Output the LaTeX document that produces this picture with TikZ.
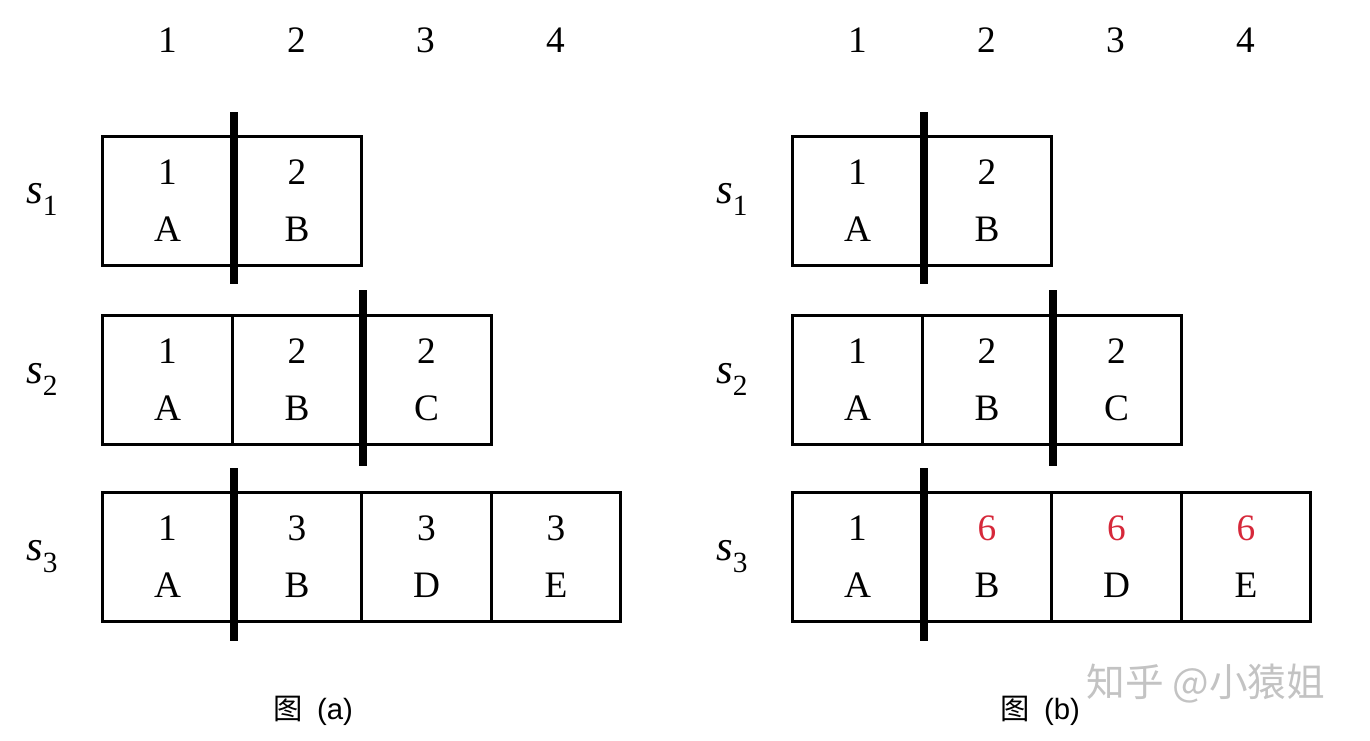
\documentclass[tikz,border=0pt]{standalone}
\usepackage{fontspec}
\setmainfont{Liberation Serif}
\newfontfamily\cjk{Noto Sans CJK SC}
\newfontfamily\capsans{Liberation Sans}
\definecolor{hl}{RGB}{214,40,58}
\definecolor{wm}{RGB}{195,195,195}
\newcommand{\rowname}[1]{\textit{s}\raisebox{-0.28em}{\fontsize{22}{22}\selectfont #1}}
\begin{document}
\begin{tikzpicture}[x=0.75pt,y=-0.75pt,
  cell/.style={draw,line width=2.2pt,minimum width=129.5*0.75pt,minimum height=129*0.75pt,inner sep=0pt,align=center,font=\fontsize{28}{42.75}\selectfont},
  hdr/.style={font=\fontsize{28}{30}\selectfont},
  rowlab/.style={font=\fontsize{32}{34}\selectfont},
  bar/.style={line width=6pt},
  captext/.style={font=\fontsize{22}{26}\selectfont},
  water/.style={font=\cjk\fontsize{29}{34}\selectfont,text=wm}]
\useasboundingbox (0,0) rectangle (1370,740);
% ---------- panel (a)
\foreach \i/\x in {1/167.5,2/296.5,3/425.5,4/555.5}{\node[hdr] (ah\i) at (\x,40) {\i};}
\node[rowlab] (al1) at (42,199) {\rowname{1}};
\node[rowlab] (al2) at (42,379) {\rowname{2}};
\node[rowlab] (al3) at (42,557) {\rowname{3}};
\node[cell] (a11) at (167.5,201) {1\\A};
\node[cell] (a12) at (297,201) {2\\B};
\node[cell] (a21) at (167.5,380) {1\\A};
\node[cell] (a22) at (297,380) {2\\B};
\node[cell] (a23) at (426.5,380) {2\\C};
\node[cell] (a31) at (167.5,557) {1\\A};
\node[cell] (a32) at (297,557) {3\\B};
\node[cell] (a33) at (426.5,557) {3\\D};
\node[cell] (a34) at (556,557) {3\\E};
\draw[bar] ([yshift=23*0.75pt]a11.north east) -- ([yshift=-17*0.75pt]a11.south east);
\draw[bar] ([yshift=24*0.75pt]a22.north east) -- ([yshift=-20*0.75pt]a22.south east);
\draw[bar] ([yshift=23*0.75pt]a31.north east) -- ([yshift=-18*0.75pt]a31.south east);
\node[captext] (capa) at (313,711) {{\cjk 图}~~{\capsans (a)}};
% ---------- panel (b)
\foreach \i/\x in {1/857.5,2/986.5,3/1115.5,4/1245.5}{\node[hdr] (bh\i) at (\x,40) {\i};}
\node[rowlab] (bl1) at (732,199) {\rowname{1}};
\node[rowlab] (bl2) at (732,379) {\rowname{2}};
\node[rowlab] (bl3) at (732,557) {\rowname{3}};
\node[cell] (b11) at (857.5,201) {1\\A};
\node[cell] (b12) at (987,201) {2\\B};
\node[cell] (b21) at (857.5,380) {1\\A};
\node[cell] (b22) at (987,380) {2\\B};
\node[cell] (b23) at (1116.5,380) {2\\C};
\node[cell] (b31) at (857.5,557) {1\\A};
\node[cell] (b32) at (987,557) {\textcolor{hl}{6}\\B};
\node[cell] (b33) at (1116.5,557) {\textcolor{hl}{6}\\D};
\node[cell] (b34) at (1246,557) {\textcolor{hl}{6}\\E};
\draw[bar] ([yshift=23*0.75pt]b11.north east) -- ([yshift=-17*0.75pt]b11.south east);
\draw[bar] ([yshift=24*0.75pt]b22.north east) -- ([yshift=-20*0.75pt]b22.south east);
\draw[bar] ([yshift=23*0.75pt]b31.north east) -- ([yshift=-18*0.75pt]b31.south east);
\node[captext] (capb) at (1040,711) {{\cjk 图}~~{\capsans (b)}};
\node[water] (wmark) at (1206,684) {知乎 @小猿姐};
\end{tikzpicture}
\end{document}
